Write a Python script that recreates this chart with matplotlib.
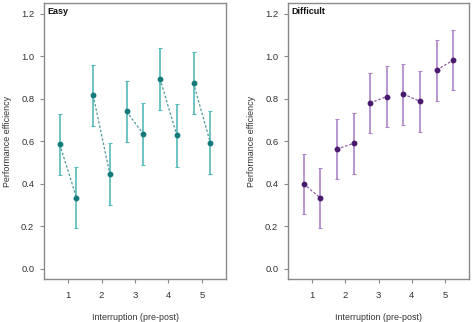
import numpy as np
import matplotlib
matplotlib.use('Agg')
import matplotlib.pyplot as plt

plt.rcParams['font.family'] = ['Liberation Sans', 'DejaVu Sans']

# interruption number and pre/post offsets
interruptions = [1, 2, 3, 4, 5]
tick_labels = ['1', '2', '3', '4', '5']

# Easy condition: pre / post means and CI bounds
easy_pre = [0.585, 0.815, 0.740, 0.893, 0.873]
easy_pre_lo = [0.440, 0.670, 0.595, 0.748, 0.728]
easy_pre_hi = [0.730, 0.960, 0.885, 1.040, 1.020]
easy_post = [0.335, 0.445, 0.633, 0.627, 0.593]
easy_post_lo = [0.190, 0.300, 0.487, 0.480, 0.448]
easy_post_hi = [0.480, 0.590, 0.778, 0.773, 0.740]

# Difficult condition
diff_pre = [0.400, 0.563, 0.780, 0.822, 0.935]
diff_pre_lo = [0.258, 0.420, 0.637, 0.678, 0.790]
diff_pre_hi = [0.540, 0.705, 0.922, 0.963, 1.075]
diff_post = [0.333, 0.590, 0.810, 0.787, 0.982]
diff_post_lo = [0.190, 0.448, 0.665, 0.645, 0.840]
diff_post_hi = [0.475, 0.732, 0.952, 0.928, 1.123]

fig = plt.figure(figsize=(4.74, 3.22), dpi=100)
ax1 = fig.add_axes([44 / 474, 43 / 322, 182 / 474, 276 / 322])
ax2 = fig.add_axes([288 / 474, 43 / 322, 181 / 474, 276 / 322])

text_col = '#333333'
spine_col = '#8a8a8a'


def panel(ax, pre, pre_lo, pre_hi, post, post_lo, post_hi, bar_col, pt_col, line_col, title):
    x = np.array(interruptions, dtype=float)
    xp, xq = x - 0.25, x + 0.25
    pre, post = np.array(pre), np.array(post)
    for xs, m, lo, hi in [(xp, pre, pre_lo, pre_hi), (xq, post, post_lo, post_hi)]:
        ax.errorbar(xs, m, yerr=[m - np.array(lo), np.array(hi) - m], fmt='none',
                    ecolor=bar_col, elinewidth=1.2, capsize=1.5, capthick=0.8, zorder=2)
    for i in range(len(x)):
        ax.plot([xp[i], xq[i]], [pre[i], post[i]], ls=(0, (2, 1.5)), color=line_col,
                lw=0.9, zorder=3)
    ax.plot(xp, pre, 'o', color=pt_col, ms=3.2, zorder=4)
    ax.plot(xq, post, 'o', color=pt_col, ms=3.2, zorder=4)

    ax.set_xlim(0.28, 5.72)
    ax.set_ylim(-0.048, 1.25)
    ax.set_xticks(interruptions)
    ax.set_xticklabels(tick_labels)
    ax.set_yticks([0.0, 0.2, 0.4, 0.6, 0.8, 1.0, 1.2])
    ax.set_yticklabels(['0.0', '0.2', '0.4', '0.6', '0.8', '1.0', '1.2'])
    ax.tick_params(direction='out', length=3, width=0.8, color=spine_col,
                   labelsize=6.8, labelcolor=text_col, pad=4)
    ax.tick_params(axis='x', pad=6)
    for s in ax.spines.values():
        s.set_color(spine_col)
        s.set_linewidth(1.0)
    ax.set_xlabel('Interruption (pre-post)', fontsize=6.4, color=text_col, labelpad=9)
    ax.set_ylabel('Performance efficiency', fontsize=6.4, color=text_col)
    ax.yaxis.set_label_coords(-0.178, 0.5)
    ax.text(0.02, 0.985, title, transform=ax.transAxes, ha='left', va='top',
            fontsize=6.5, fontweight='bold', color='#111111')


panel(ax1, easy_pre, easy_pre_lo, easy_pre_hi, easy_post, easy_post_lo, easy_post_hi,
      '#55baba', '#157a7a', '#4f9a9a', 'Easy')
panel(ax2, diff_pre, diff_pre_lo, diff_pre_hi, diff_post, diff_post_lo, diff_post_hi,
      '#ad85ca', '#4a1a6e', '#8a5aa8', 'Difficult')

fig.savefig('out.png', dpi=100)
